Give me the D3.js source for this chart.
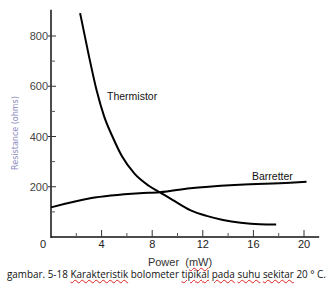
<!DOCTYPE html>
<html lang="id">
<head>
    <meta charset="UTF-8">
    <script src="https://cdn.jsdelivr.net/npm/d3@7"></script>
    <title>Karakteristik bolometer</title>
    <style>
        html, body {
            margin: 0;
            padding: 0;
            background: #fff;
            width: 336px;
            height: 302px;
            overflow: hidden;
            position: relative;
        }
        svg { position: absolute; left: 0; top: 0; }
        .note {
            position: absolute;
            white-space: nowrap;
            color: #111;
        }
        .squig {
            text-decoration: underline wavy #d22;
            text-decoration-thickness: 1px;
            text-underline-offset: 1px;
        }
        #xtitle {
            left: 0; width: 360px; text-align: center;
            top: 257px;
            line-height: 11px;
            font-family: "Liberation Sans", Arial, sans-serif;
            font-size: 11px;
            color: #333;
        }
        #caption {
            left: 7px;
            top: 269px;
            line-height: 10px;
            font-family: "Open Sans", sans-serif;
            font-size: 9.9px;
            letter-spacing: 0;
        }
    </style>
</head>
<body>
    <div id="xtitle" class="note">Power&nbsp; (<span class="squig">mW</span>)</div>
    <div id="caption" class="note">gambar. 5-18 <span class="squig">Karakteristik</span> bolometer <span class="squig">tipikal</span> <span class="squig">pada</span> <span class="squig">suhu</span> <span class="squig">sekitar</span> 20 ° C.</div>

    <script>
        // values (power in mW, resistance in ohms)
        let thermistorP = [2.3, 3.0, 3.6, 4.2, 4.9, 5.6, 6.6, 7.7, 8.7, 9.6, 11.0, 12.3, 13.6, 15.0, 16.5, 17.8];
        let thermistorR = [891, 720, 585, 480, 395, 322, 252, 205, 175, 148, 107, 84, 68, 57, 51, 50];

        let barretterP = [0, 3.1, 7.0, 8.6, 11.0, 14.9, 18.9, 20.2];
        let barretterR = [118, 154, 174, 178, 194, 208, 216, 220];

        let xMajor = [0, 4, 8, 12, 16, 20];
        let xMinor = [2, 6, 10, 14, 18];
        let yMajor = [200, 400, 600, 800];
        let yMinor = [100, 300, 500, 700];

        let width = 336, height = 302;

        let x = d3.scaleLinear().domain([0, 20]).range([51, 304]);
        let y = d3.scaleLinear().domain([0, 800]).range([237, 36]);

        let svg = d3.select('body').append('svg')
            .attr('width', width).attr('height', height);

        // axes frame
        svg.append('line')
            .attr('x1', x(0)).attr('x2', x(0))
            .attr('y1', y(0) + 1).attr('y2', y(904))
            .attr('stroke', '#111').attr('stroke-width', 1.5);
        svg.append('line')
            .attr('x1', x(0)).attr('x2', x(21.2))
            .attr('y1', y(0)).attr('y2', y(0))
            .attr('stroke', '#111').attr('stroke-width', 1.5);

        // x ticks, drawn pointing up into the plot
        svg.append('g').selectAll('line')
            .data(xMajor.filter(d => d > 0))
            .join('line')
            .attr('x1', d => x(d)).attr('x2', d => x(d))
            .attr('y1', y(0)).attr('y2', y(0) - 7)
            .attr('stroke', '#333').attr('stroke-width', 1);
        svg.append('g').selectAll('line')
            .data(xMinor)
            .join('line')
            .attr('x1', d => x(d)).attr('x2', d => x(d))
            .attr('y1', y(0)).attr('y2', y(0) - 4)
            .attr('stroke', '#555').attr('stroke-width', 1);
        svg.append('g').selectAll('text')
            .data(xMajor)
            .join('text')
            .attr('x', d => d === 0 ? x(d) - 8 : x(d))
            .attr('y', 248)
            .attr('text-anchor', 'middle')
            .attr('font-family', 'Liberation Sans, Arial, sans-serif')
            .attr('font-size', 11)
            .attr('fill', '#222')
            .text(d => d);

        // y ticks
        svg.append('g').selectAll('line')
            .data(yMajor)
            .join('line')
            .attr('x1', x(0) - 3).attr('x2', x(0) + 5)
            .attr('y1', d => y(d)).attr('y2', d => y(d))
            .attr('stroke', '#333').attr('stroke-width', 1);
        svg.append('g').selectAll('line')
            .data(yMinor)
            .join('line')
            .attr('x1', x(0)).attr('x2', x(0) + 4)
            .attr('y1', d => y(d)).attr('y2', d => y(d))
            .attr('stroke', '#555').attr('stroke-width', 1);
        svg.append('g').selectAll('text')
            .data(yMajor)
            .join('text')
            .attr('x', x(0) - 3)
            .attr('y', d => y(d) + 4)
            .attr('text-anchor', 'end')
            .attr('font-family', 'Liberation Sans, Arial, sans-serif')
            .attr('font-size', 11)
            .attr('fill', '#444')
            .text(d => d);

        // faded y title from the scan
        svg.append('text')
            .attr('transform', 'translate(18,133) rotate(-90)')
            .attr('text-anchor', 'middle')
            .attr('font-family', 'DejaVu Sans, sans-serif')
            .attr('font-size', 8)
            .attr('fill', '#6c6cb0')
            .attr('opacity', 0.8)
            .text('Resistance (ohms)');

        let line = d3.line()
            .x(d => x(d[0]))
            .y(d => y(d[1]))
            .curve(d3.curveMonotoneX);

        let thermistor = thermistorP.map((p, i) => [p, thermistorR[i]]);
        let barretter = barretterP.map((p, i) => [p, barretterR[i]]);

        [thermistor, barretter].forEach(s => {
            svg.append('path')
                .datum(s)
                .attr('d', line)
                .attr('fill', 'none')
                .attr('stroke', '#000')
                .attr('stroke-width', 2);
        });

        svg.append('text')
            .attr('x', 107).attr('y', 100)
            .attr('font-family', 'Liberation Sans, Arial, sans-serif')
            .attr('font-size', 10.5)
            .attr('fill', '#111')
            .text('Thermistor');
        svg.append('text')
            .attr('x', 252).attr('y', 180)
            .attr('font-family', 'Liberation Sans, Arial, sans-serif')
            .attr('font-size', 10.5)
            .attr('fill', '#111')
            .text('Barretter');
    </script>
</body>
</html>
